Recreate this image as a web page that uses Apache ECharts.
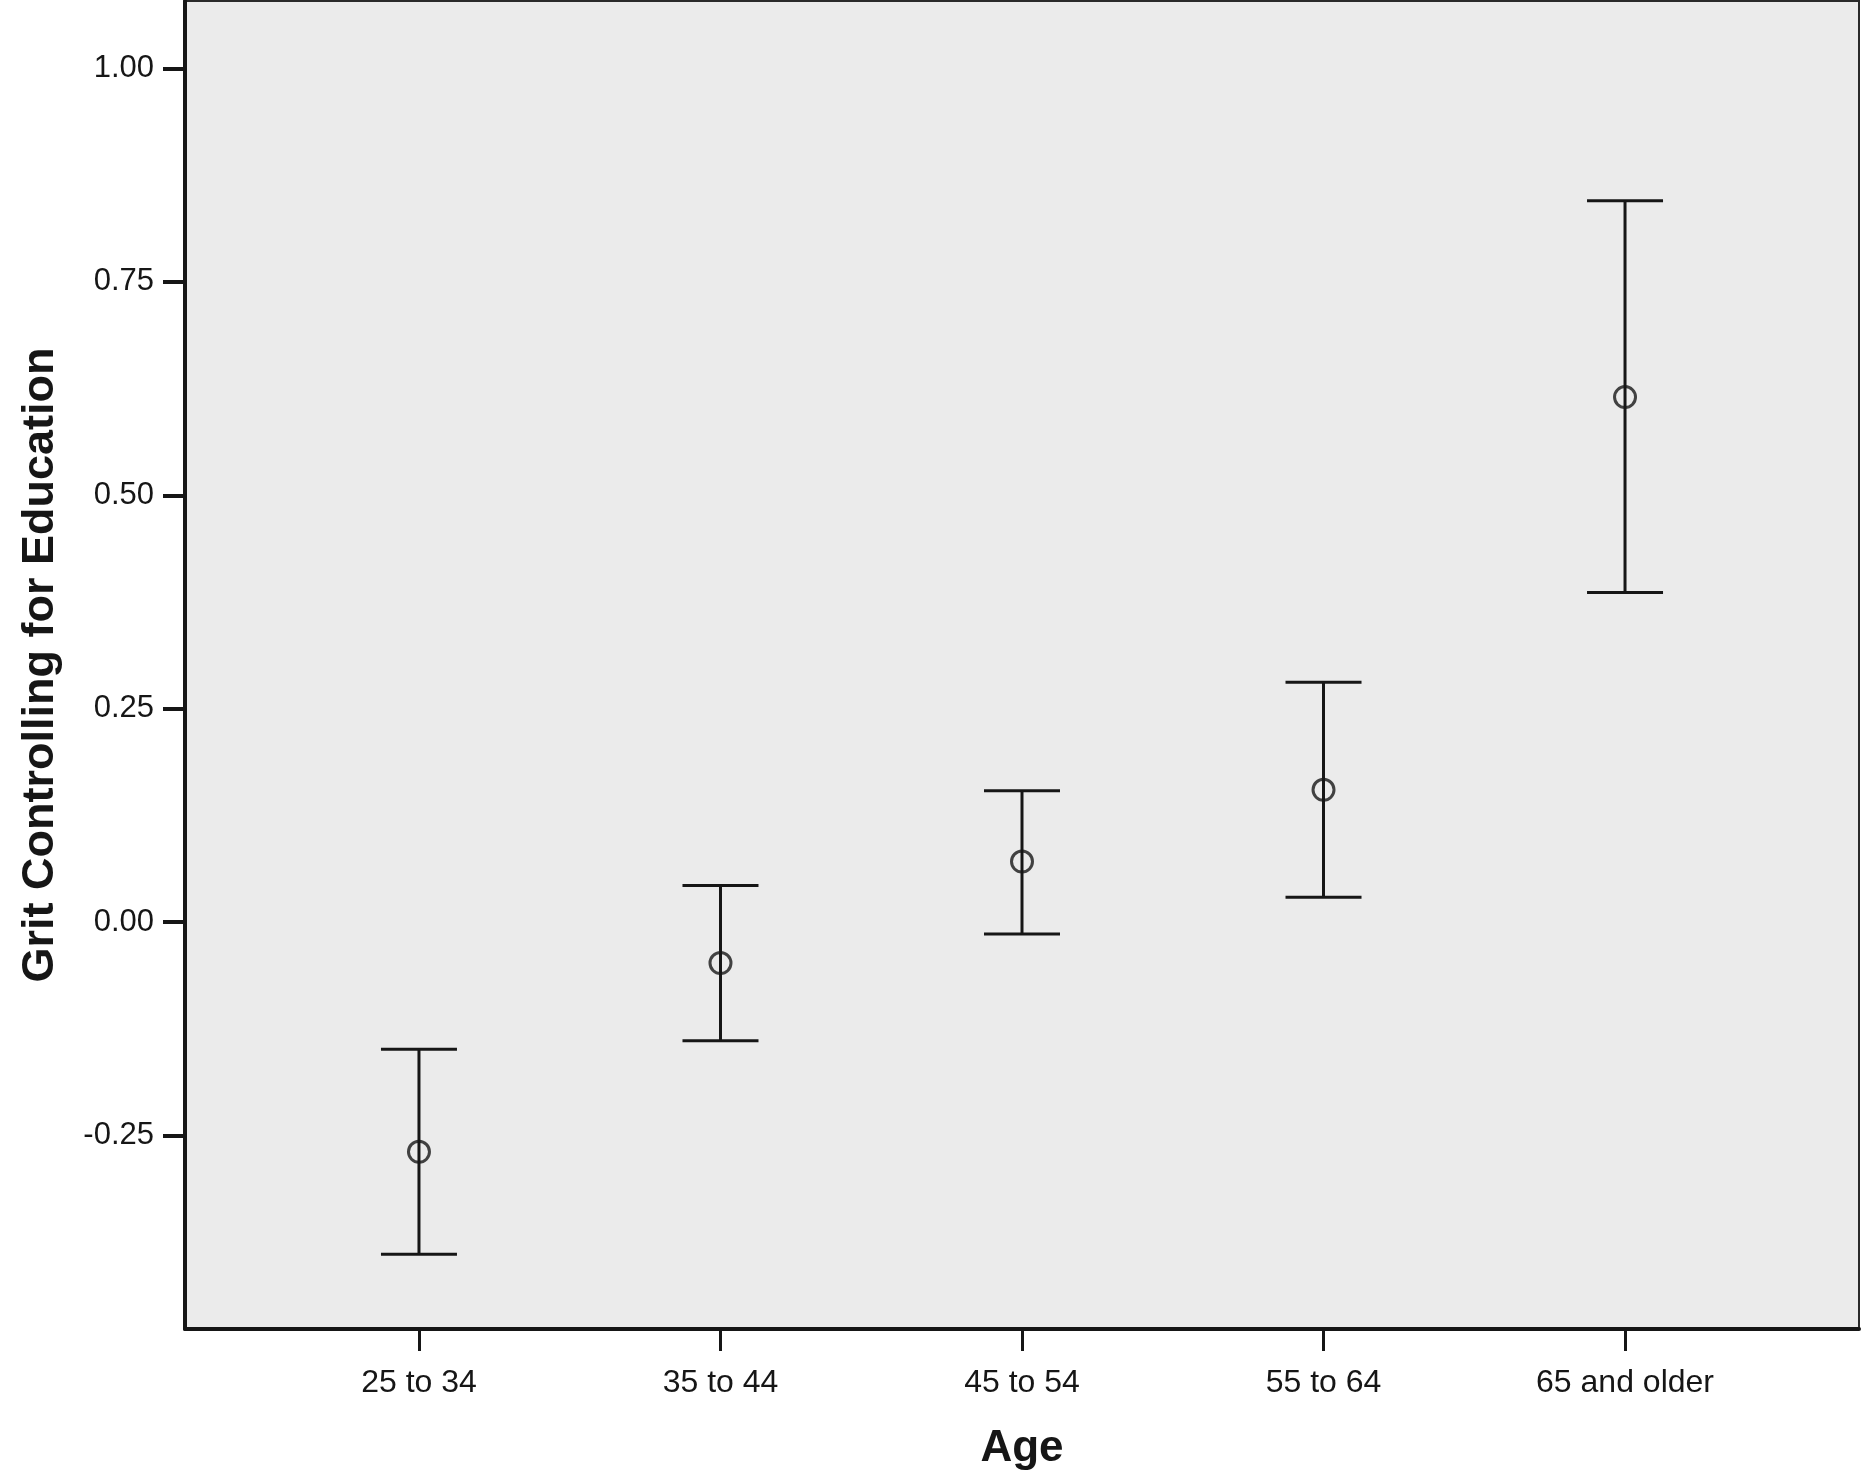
<!DOCTYPE html>
<html>
<head>
<meta charset="utf-8">
<script src="https://cdn.jsdelivr.net/npm/echarts@6/dist/echarts.min.js"></script>
<style>
  html, body { margin: 0; padding: 0; background: #fff; }
  #chart { width: 1872px; height: 1478px; }
</style>
</head>
<body>
<div id="chart"></div>
<script>
  // values
  var ageGroups = ['25 to 34', '35 to 44', '45 to 54', '55 to 64', '65 and older'];
  var meanValues = [-0.269, -0.048, 0.071, 0.155, 0.615];
  var lowerCI = [-0.389, -0.139, -0.014, 0.029, 0.386];
  var upperCI = [-0.149, 0.043, 0.154, 0.281, 0.845];
  var yTickValues = [-0.25, 0, 0.25, 0.5, 0.75, 1.0];
  var xTickValues = [0, 1, 2, 3, 4];

  var ink = '#161616';
  var fontFamily = '"Liberation Sans", Arial, sans-serif';

  var barData = ageGroups.map(function (g, i) {
    return [i, lowerCI[i], upperCI[i]];
  });
  var meanData = ageGroups.map(function (g, i) {
    return [i, meanValues[i]];
  });

  var chart = echarts.init(document.getElementById('chart'));

  var option = {
    backgroundColor: '#ffffff',
    animation: false,
    grid: {
      show: true,
      left: 185,
      right: 13,
      top: 1,
      bottom: 149,
      backgroundColor: '#ebebeb',
      borderColor: '#2a2a2a',
      borderWidth: 2
    },
    xAxis: {
      type: 'value',
      min: -0.776,
      max: 4.776,
      name: 'Age',
      nameLocation: 'middle',
      nameGap: 98,
      nameTextStyle: { fontSize: 44, fontWeight: 'bold', color: ink, fontFamily: fontFamily },
      splitLine: { show: false },
      axisLine: { show: true, onZero: false, lineStyle: { color: ink, width: 4 } },
      axisTick: { show: true, customValues: xTickValues, length: 22, lineStyle: { color: ink, width: 3 } },
      axisLabel: {
        customValues: xTickValues,
        margin: 38,
        fontSize: 32,
        color: ink,
        fontFamily: fontFamily,
        formatter: function (v) { return ageGroups[Math.round(v)]; }
      }
    },
    yAxis: {
      type: 'value',
      min: -0.4766,
      max: 1.079,
      name: 'Grit Controlling for Education',
      nameLocation: 'middle',
      nameGap: 122,
      nameTextStyle: { fontSize: 45, fontWeight: 'bold', color: ink, fontFamily: fontFamily },
      splitLine: { show: false },
      axisLine: { show: true, onZero: false, lineStyle: { color: ink, width: 4 } },
      axisTick: { show: true, customValues: yTickValues, length: 22, lineStyle: { color: ink, width: 4 } },
      axisLabel: {
        customValues: yTickValues,
        margin: 31,
        fontSize: 31,
        color: ink,
        fontFamily: fontFamily,
        formatter: function (v) { return v.toFixed(2); }
      }
    },
    series: [
      {
        type: 'custom',
        name: 'CI',
        data: barData,
        encode: { x: 0, y: [1, 2] },
        renderItem: function (params, api) {
          var x = api.value(0);
          var lo = api.coord([x, api.value(1)]);
          var hi = api.coord([x, api.value(2)]);
          var half = 38;
          var style = { stroke: ink, lineWidth: 3, fill: null };
          return {
            type: 'group',
            children: [
              { type: 'line', shape: { x1: lo[0], y1: lo[1], x2: hi[0], y2: hi[1] }, style: style },
              { type: 'line', shape: { x1: lo[0] - half, y1: lo[1], x2: lo[0] + half, y2: lo[1] }, style: style },
              { type: 'line', shape: { x1: hi[0] - half, y1: hi[1], x2: hi[0] + half, y2: hi[1] }, style: style }
            ]
          };
        },
        z: 2
      },
      {
        type: 'scatter',
        name: 'Mean',
        data: meanData,
        symbol: 'circle',
        symbolSize: 21,
        itemStyle: { color: 'rgba(0,0,0,0)', borderColor: ink, borderWidth: 3 },
        z: 3
      }
    ]
  };

  chart.setOption(option);
</script>
</body>
</html>
